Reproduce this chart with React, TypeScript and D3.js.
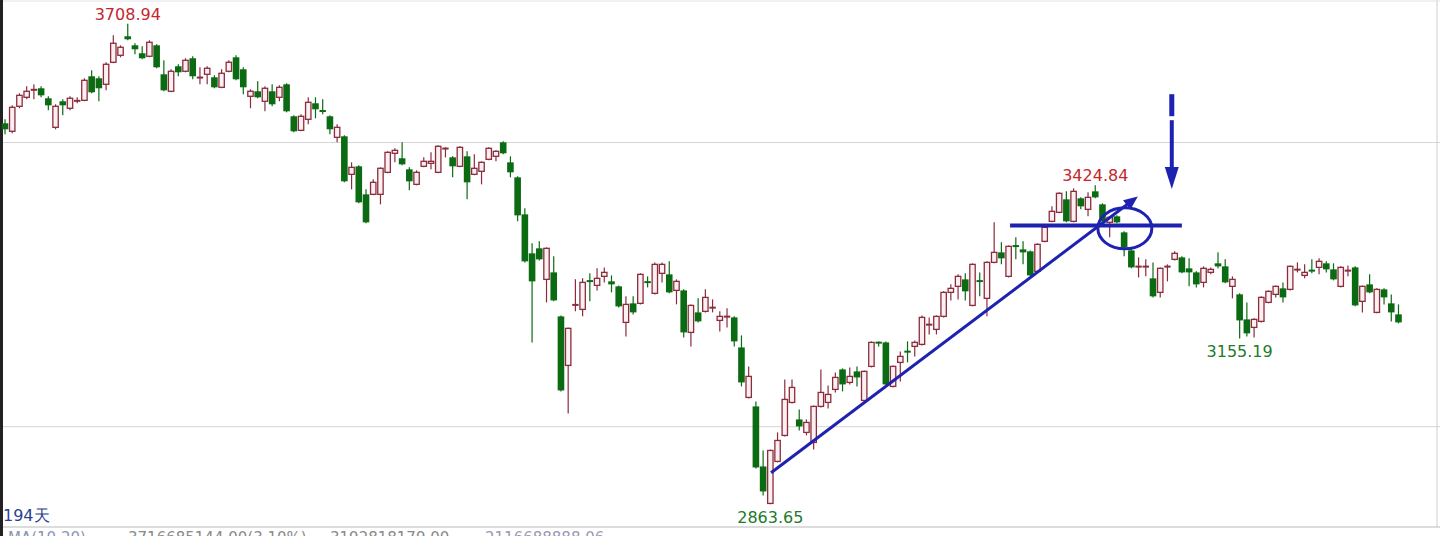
import React from 'react';
import * as d3 from 'd3';

// Daily OHLC (194 trading days)
const openP = [
3533.8,3519.7,3563.7,3579.5,3591.8,3595.4,3577.8,3526.7,3572.5,3560.2,
3572.5,3574.2,3616.5,3613,3602.4,3641.1,3653.4,3686.9,3671,3657,
3651.7,3671,3620,3590.1,3634.1,3625.3,3648.2,3613.8,3620,3614.7,
3597.1,3625.3,3649.9,3628.8,3581.3,3590.1,3572.5,3590.1,3579.5,3602.4,
3546.1,3521.4,3540.8,3569,3555.8,3546.1,3509.1,3510.9,3444,3458.1,
3408.8,3408.8,3408.8,3447.5,3481,3472.2,3452.8,3426.4,3458.1,3463.4,
3447.5,3488.9,3473.9,3458.1,3475.7,3444,3449.3,3470.4,3475.7,3500.3,
3465.1,3438.7,3373.6,3305,3313.8,3259.2,3271.5,3194.1,3107.8,3213.4,
3206.4,3256.6,3248.6,3264.5,3255.7,3246.9,3183.5,3217,3217,3254.8,
3234.6,3269.8,3268,3239.8,3239.8,3165.9,3201.1,3202.9,3209,3187,
3193.2,3192.3,3139.5,3051.5,3035.7,2930.1,2865,2938.9,2984.6,3042.7,
3012.8,2989.9,2972.3,3035.7,3042.7,3065.6,3100.8,3077.9,3097.3,3046.2,
3106.1,3148.3,3148.3,3070.9,3113.1,3132.5,3141.3,3144.8,3179.1,3171.2,
3194.1,3236.3,3246.9,3259.2,3213.4,3256.6,3225.8,3289.1,3306.7,3264.5,
3318.2,3312,3308.5,3273.3,3326.1,3361.3,3377.1,3400,3361.3,3401.8,
3382.4,3414.1,3391.2,3359.5,3370.1,3341.9,3310.2,3281.2,3281.2,3261,
3236.3,3281.2,3294.4,3297.9,3278.6,3271.5,3253.9,3271.5,3287.4,3282.1,
3246.9,3232.8,3188.8,3174.7,3185.3,3218.7,3232.8,3243.4,3241.6,3275.9,
3266.2,3275,3280.3,3287.4,3276.8,3246.9,3274.2,3280.3,3220.5,3250.4,
3201.1,3241.6,3217,3197.6
];
const closeP = [
3523.2,3561.9,3583,3590.1,3593.6,3583,3565.4,3563.7,3565.4,3577.8,
3574.2,3609.4,3588.3,3595.4,3637.6,3674.6,3667.5,3681.6,3664,3648.2,
3676.3,3632.3,3591.8,3625.3,3623.5,3644.6,3616.5,3614.7,3630.6,3597.1,
3621.8,3641.1,3611.2,3597.1,3590.1,3579.5,3595.4,3567.2,3597.1,3554.9,
3519.7,3546.1,3570.7,3558.4,3554.9,3523.2,3526.7,3431.7,3456.3,3394.7,
3359.5,3429.9,3454.6,3482.7,3486.2,3461.6,3431.7,3447.5,3466.9,3466.9,
3493.3,3489.8,3458.1,3491.5,3429.9,3454.6,3465.1,3489.8,3484.5,3481,
3447.5,3371.8,3290.9,3255.7,3294.4,3313.8,3222.2,3063.8,3173,3215.2,
3253.9,3255.7,3261,3271.5,3250.4,3211.7,3215.2,3201.1,3268,3253.9,
3285.6,3285.6,3236.3,3255.7,3165.9,3213.4,3185.3,3227.5,3209.9,3194.1,
3194.1,3150.1,3077.9,3088.5,2928.3,2886.1,2958.2,2975.8,3048,3069.1,
3000.5,3007.5,3035.7,3060.3,3056.8,3086.7,3074.4,3088.5,3086.7,3097.3,
3148.3,3147.4,3074.4,3106.1,3123.7,3131.6,3148.3,3192.3,3180,3194.1,
3236.3,3243.4,3264.5,3238.1,3285.6,3255.7,3289.1,3306.7,3296.2,3317.3,
3317.3,3306.7,3266.2,3320.8,3350.7,3378.9,3410.6,3361.3,3414.1,3387.7,
3403.5,3403.5,3361.3,3368.3,3359.5,3315.5,3280.3,3282.1,3282.1,3229.3,
3278.6,3282.1,3305,3271.5,3271.5,3250.4,3278.6,3276.8,3282.1,3253.9,
3259.2,3187,3164.2,3188.8,3227.5,3238.1,3246.9,3227.5,3282.1,3276.8,
3271.5,3274.2,3290.9,3276.8,3259.2,3280.3,3275,3213.4,3246.9,3236.3,
3241.6,3227.5,3201.1,3183.5
];
const highP = [
3540.8,3565.4,3586.6,3598.9,3602.4,3598.9,3581.3,3567.2,3576,3581.3,
3579.5,3613,3627,3616.5,3641.1,3688.6,3671,3708.94,3674.6,3669.3,
3679.8,3672.8,3644.6,3628.8,3637.6,3648.2,3651.7,3632.3,3634.1,3618.2,
3628.8,3644.6,3653.4,3632.3,3593.6,3607.7,3598.9,3602.4,3600.6,3604.2,
3547.8,3549.6,3579.5,3579.5,3576,3547.8,3532,3512.6,3465.1,3459.8,
3417.6,3435.2,3456.3,3484.5,3489.8,3500.3,3456.3,3451,3473.9,3482.7,
3495,3491.5,3475.7,3493.3,3484.5,3479.2,3466.9,3491.5,3486.2,3502.1,
3475.7,3440.5,3384.2,3322.6,3326.1,3315.5,3299.7,3195.8,3174.7,3259.2,
3261,3269.8,3278.6,3280.3,3266.2,3248.6,3229.3,3229.3,3269.8,3264.5,
3289.1,3289.1,3290.9,3259.2,3241.6,3215.2,3225.8,3241.6,3224,3202.9,
3208.2,3194.1,3160.6,3106.1,3044.5,2958.2,2960,2989.9,3083.2,3083.2,
3030.4,3012.8,3037.4,3100.8,3072.6,3095.5,3102.6,3104.3,3106.1,3099,
3150.1,3150.1,3150.1,3107.8,3132.5,3150.1,3151.8,3195.8,3192.3,3195.8,
3238.1,3250.4,3268,3269.8,3287.4,3271.5,3290.9,3359.5,3324.3,3319,
3333.1,3326.1,3310.2,3322.6,3352.5,3387.7,3412.3,3414.1,3419.4,3403.5,
3412.3,3424.84,3393,3370.1,3371.8,3343.7,3312,3297.9,3294.4,3289.1,
3280.3,3285.6,3308.5,3299.7,3296.2,3273.3,3282.1,3280.3,3306.7,3294.4,
3264.5,3234.6,3218.7,3190.6,3229.3,3239.8,3248.6,3253.9,3283.8,3289.1,
3285.6,3294.4,3296.2,3290.9,3287.4,3282.1,3283.8,3282.1,3248.6,3268,
3243.4,3243.4,3232.8,3215.2
];
const lowP = [
3514.4,3516.2,3560.2,3576,3576,3579.5,3556.6,3523.2,3547.8,3556.6,
3569,3572.5,3586.6,3572.5,3591.8,3639.4,3649.9,3679.8,3655.2,3646.4,
3649.9,3630.6,3590.1,3588.3,3616.5,3623.5,3611.2,3602.4,3602.4,3595.4,
3595.4,3623.5,3609.4,3584.8,3560.2,3577.8,3554.9,3563.7,3572.5,3553.1,
3517.9,3519.7,3532,3542.6,3549.6,3514.4,3500.3,3429.9,3417.6,3393,
3357.8,3407,3391.2,3445.8,3465.1,3459.8,3415.8,3424.6,3456.3,3452.8,
3445.8,3473.9,3438.7,3456.3,3400,3442.2,3426.4,3468.6,3466.9,3479.2,
3438.7,3361.3,3289.1,3148.3,3292.6,3218.7,3220.5,3062.1,3023.4,3202.9,
3194.1,3220.5,3239.8,3253.9,3236.3,3209.9,3158.9,3197.6,3215.2,3245.1,
3232.8,3253.9,3234.6,3215.2,3157.1,3141.3,3183.5,3201.1,3201.1,3167.7,
3174.7,3141.3,3070.9,3049.8,2926.6,2879,2863.65,2937.1,2982.9,3041,
2993.4,2984.6,2960,3033.9,3032.2,3060.3,3062.1,3074.4,3070.9,3044.5,
3104.3,3141.3,3072.6,3069.1,3079.7,3113.1,3123.7,3143,3162.4,3162.4,
3192.3,3222.2,3224,3222.2,3211.7,3229.3,3194.1,3287.4,3285.6,3262.7,
3294.4,3285.6,3264.5,3271.5,3324.3,3359.5,3375.4,3359.5,3359.5,3382.4,
3370.1,3401.8,3359.5,3333.1,3357.8,3299.7,3278.6,3262.7,3264.5,3227.5,
3227.5,3255.7,3292.6,3269.8,3246.9,3245.1,3245.1,3268,3278.6,3252.2,
3225.8,3155.19,3158.9,3157.1,3183.5,3217,3227.5,3218.7,3239.8,3271.5,
3261,3269.8,3268,3271.5,3257.4,3245.1,3264.5,3211.7,3201.1,3234.6,
3199.4,3215.2,3185.3,3181.8
];

const gridValues = [3000, 3500];
const extremeIdx = [17, 151, 106, 171];
const extremeLabels = ['3708.94', '3424.84', '2863.65', '3155.19'];
const extremeKind = ['high', 'high', 'low', 'low'];
const dayCountLabel = '194天';
const footerTexts = ['MA(10,20)', '3716685144.00(3.10%)', '3192818179.00', '2116688888.06'];

// annotation anchors in data space (index, value)
const trendLine = [[106.1, 2919], [156.9, 3405]];
const levelLine = [[139.2, 3354], [163.0, 3354]];
const circleAnchor = [155.1, 3349];
const downArrow = [[161.6, 3585], [161.6, 3418]];

const UP = '#8c2b3c';
const UP_FILL = '#fcf0f2';
const DOWN = '#0b6b12';
const BLUE = '#1d22b0';

export default function App() {
  const W = 1440, H = 536;
  const idx = d3.range(openP.length);
  const x = d3.scaleBand<number>().domain(idx).range([1.4, 1402.1]).padding(0);
  const y = d3.scaleLinear().domain([3000, 3500]).range([426.7, 142.5]);
  const step = x.step();
  const xc = (i: number) => (x(0) as number) + step * (i + 0.5);
  const bw = 5.4;

  const tl0 = [xc(trendLine[0][0]), y(trendLine[0][1])];
  const tl1 = [xc(trendLine[1][0]), y(trendLine[1][1])];
  const ang = Math.atan2(tl1[1] - tl0[1], tl1[0] - tl0[0]);
  const ah = 14, aw = 6;
  const arrowPts = [
    [tl1[0], tl1[1]],
    [tl1[0] - ah * Math.cos(ang) + aw * Math.sin(ang), tl1[1] - ah * Math.sin(ang) - aw * Math.cos(ang)],
    [tl1[0] - ah * Math.cos(ang) - aw * Math.sin(ang), tl1[1] - ah * Math.sin(ang) + aw * Math.cos(ang)],
  ];
  const da0 = [xc(downArrow[0][0]), y(downArrow[0][1])];
  const da1 = [xc(downArrow[1][0]), y(downArrow[1][1])];

  return (
    <svg width={W} height={H} style={{ position: 'absolute', left: 0, top: 0, background: '#fff' }}
      fontFamily="'DejaVu Sans', Verdana, sans-serif">
      <rect x={0} y={0} width={W} height={H} fill="#fff" />
      {gridValues.map((g) => (
        <line key={g} x1={0} x2={W} y1={y(g)} y2={y(g)} stroke="#d6d6d6" strokeWidth={1} />
      ))}
      {/* frame */}
      <line x1={1437} x2={1437} y1={0} y2={527} stroke="#cfcfcf" />
      <line x1={0} x2={W} y1={1} y2={1} stroke="#e2e2e2" />
      <line x1={0} x2={W} y1={527} y2={527} stroke="#b9b9b9" />
      <line x1={1.5} x2={1.5} y1={0} y2={536} stroke="#222" strokeWidth={3} />

      {idx.map((i) => {
        const o = openP[i], c = closeP[i];
        const up = c >= o;
        const col = up ? UP : DOWN;
        const cx = xc(i);
        const top = y(Math.max(o, c));
        const bot = y(Math.min(o, c));
        const h = bot - top;
        return (
          <g key={i}>
            <line x1={cx} x2={cx} y1={y(highP[i])} y2={y(lowP[i])} stroke={col} strokeWidth={1.2} />
            {h < 1.6 ? (
              <rect x={cx - bw / 2 - 0.5} y={(top + bot) / 2 - 1} width={bw + 1} height={2} fill={col} />
            ) : up ? (
              <rect x={cx - bw / 2} y={top} width={bw} height={h} fill={UP_FILL} stroke={col} strokeWidth={1.3} />
            ) : (
              <rect x={cx - bw / 2 - 0.6} y={top} width={bw + 1.2} height={h} fill={col} />
            )}
          </g>
        );
      })}

      {extremeIdx.map((i, k) => {
        const isHigh = extremeKind[k] === 'high';
        const yy = isHigh ? y(highP[i]) - 4 : y(lowP[i]) + 18.5;
        return (
          <text key={k} x={xc(i)} y={yy} textAnchor="middle" fontSize={16}
            fill={isHigh ? '#c4262e' : '#237a2a'}>{extremeLabels[k]}</text>
        );
      })}

      {/* annotations */}
      <line x1={tl0[0]} y1={tl0[1]} x2={tl1[0] - 8 * Math.cos(ang)} y2={tl1[1] - 8 * Math.sin(ang)}
        stroke={BLUE} strokeWidth={3} />
      <polygon points={arrowPts.map((p) => p.join(',')).join(' ')} fill={BLUE} />
      <line x1={xc(levelLine[0][0])} x2={xc(levelLine[1][0])} y1={y(levelLine[0][1])} y2={y(levelLine[1][1])}
        stroke={BLUE} strokeWidth={4} />
      <ellipse cx={xc(circleAnchor[0])} cy={y(circleAnchor[1])} rx={27} ry={20.5}
        fill="none" stroke={BLUE} strokeWidth={3} />
      <line x1={da0[0]} x2={da0[0]} y1={da0[1]} y2={da0[1] + 22} stroke={BLUE} strokeWidth={5} />
      <line x1={da0[0]} x2={da1[0]} y1={da0[1] + 26} y2={da1[1] - 18} stroke={BLUE} strokeWidth={4} />
      <polygon points={`${da1[0] - 7},${da1[1] - 22} ${da1[0] + 7},${da1[1] - 22} ${da1[0]},${da1[1]}`} fill={BLUE} />

      <text x={3} y={521} fontSize={16} fill="#2a3f8e">{dayCountLabel}</text>
      <text x={8} y={543} fontSize={15} fill="#8a96b4">{footerTexts[0]}</text>
      <text x={128} y={543} fontSize={15} fill="#8a8a8a">{footerTexts[1]}</text>
      <text x={330} y={543} fontSize={15} fill="#8a8a8a">{footerTexts[2]}</text>
      <text x={485} y={543} fontSize={15} fill="#9a9ab4">{footerTexts[3]}</text>
    </svg>
  );
}
